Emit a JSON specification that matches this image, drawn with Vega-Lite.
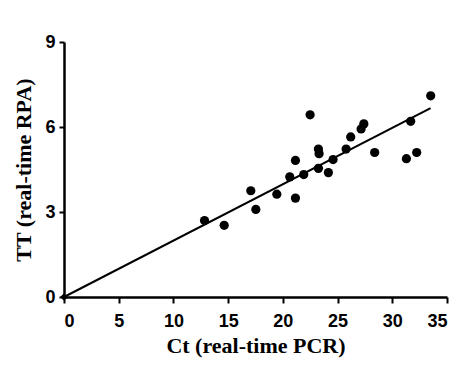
{
  "$schema": "https://vega.github.io/schema/vega-lite/v6.json",
  "width": 383,
  "height": 255,
  "autosize": "none",
  "padding": {"left": 64, "top": 42, "right": 27, "bottom": 81},
  "background": "white",
  "config": {
    "view": {"stroke": null},
    "axis": {
      "grid": false,
      "domainColor": "black",
      "domainWidth": 2.5,
      "tickColor": "black",
      "tickWidth": 2,
      "labelFont": "Liberation Sans",
      "labelFontWeight": "bold",
      "labelFontSize": 18,
      "labelColor": "black",
      "titleFont": "Liberation Serif",
      "titleFontWeight": "bold",
      "titleFontSize": 22,
      "titleColor": "black"
    }
  },
  "datasets": {
    "points": [
      {"ct": 12.84, "tt": 2.70},
      {"ct": 14.64, "tt": 2.53},
      {"ct": 17.07, "tt": 3.75},
      {"ct": 17.53, "tt": 3.09},
      {"ct": 19.45, "tt": 3.63},
      {"ct": 20.63, "tt": 4.24},
      {"ct": 21.15, "tt": 3.49},
      {"ct": 21.15, "tt": 4.82},
      {"ct": 21.91, "tt": 4.32},
      {"ct": 22.49, "tt": 6.43},
      {"ct": 23.25, "tt": 4.54},
      {"ct": 23.25, "tt": 5.22},
      {"ct": 23.31, "tt": 5.06},
      {"ct": 24.16, "tt": 4.39},
      {"ct": 24.59, "tt": 4.85},
      {"ct": 25.78, "tt": 5.22},
      {"ct": 26.20, "tt": 5.65},
      {"ct": 27.15, "tt": 5.93},
      {"ct": 27.40, "tt": 6.11},
      {"ct": 28.39, "tt": 5.10},
      {"ct": 31.29, "tt": 4.88},
      {"ct": 31.68, "tt": 6.20},
      {"ct": 32.23, "tt": 5.10},
      {"ct": 33.51, "tt": 7.10}
    ],
    "fit": [
      {"ct": 0, "tt": 0},
      {"ct": 33.5, "tt": 6.67}
    ],
    "origin": [
      {"ct": 0, "tt": 0}
    ]
  },
  "encoding": {
    "x": {
      "field": "ct",
      "type": "quantitative",
      "scale": {"domain": [0, 35], "nice": false, "zero": true},
      "axis": {"values": [0, 5, 10, 15, 20, 25, 30, 35], "tickSize": 6, "labelPadding": 9, "title": "Ct (real-time PCR)", "titlePadding": 5}
    },
    "y": {
      "field": "tt",
      "type": "quantitative",
      "scale": {"domain": [0, 9], "nice": false},
      "axis": {"values": [0, 3, 6, 9], "tickSize": 5, "labelPadding": 4, "title": "TT (real-time RPA)", "titlePadding": 9}
    }
  },
  "layer": [
    {
      "data": {"name": "fit"},
      "mark": {"type": "line", "color": "black", "strokeWidth": 2, "clip": false}
    },
    {
      "data": {"name": "points"},
      "mark": {"type": "point", "shape": "circle", "filled": true, "color": "black", "opacity": 1, "size": 85, "clip": false}
    },
    {
      "data": {"name": "origin"},
      "mark": {"type": "point", "shape": "diamond", "filled": true, "color": "black", "opacity": 1, "size": 60, "clip": false}
    }
  ]
}
